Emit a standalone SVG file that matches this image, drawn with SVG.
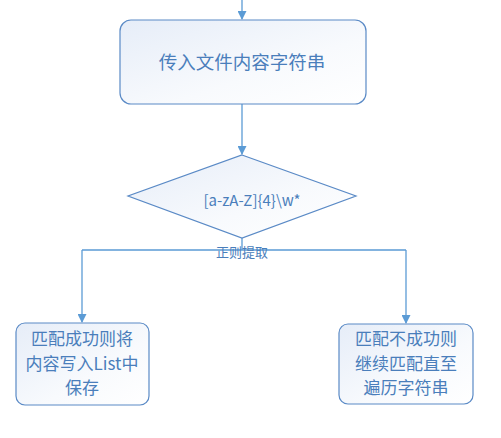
<svg xmlns="http://www.w3.org/2000/svg" width="501" height="438" viewBox="0 0 501 438">
<defs>
<linearGradient id="g" x1="0" y1="0" x2="1" y2="1">
<stop offset="0" stop-color="#e6edf8"/>
<stop offset="0.6" stop-color="#f8fafd"/>
<stop offset="1" stop-color="#ffffff"/>
</linearGradient>
<marker id="arr" markerWidth="9" markerHeight="9" refX="8" refY="4.5" orient="auto" markerUnits="userSpaceOnUse">
<path d="M0,0 L9,4.5 L0,9 Z" fill="#5b9bd5"/>
</marker>
<style>
.shape{fill:url(#g);stroke:#5a8ac6;stroke-width:1.2}
.t{font-family:"Noto Sans CJK SC","Liberation Sans",sans-serif;fill:#4a7ebb;text-anchor:middle}
.c{fill:none;stroke:#5b9bd5;stroke-width:1.3}
</style>
</defs>
<g id="connectors">
<path class="c" d="M242,0 V19" marker-end="url(#arr)"/>
<path class="c" d="M242,104 V154" marker-end="url(#arr)"/>
<path class="c" d="M242,238 V250 M82,250 H406"/>
<path class="c" d="M82,250 V322" marker-end="url(#arr)"/>
<path class="c" d="M406,250 V323" marker-end="url(#arr)"/>
<text class="t" x="242" y="257" font-size="13">正则提取</text>
</g>
<g id="start">
<rect class="shape" x="120" y="20" width="246" height="84" rx="11"/>
<text class="t" x="242" y="69" font-size="18.5">传入文件内容字符串</text>
</g>
<g id="decision">
<path class="shape" d="M242,155 L356,196 L242,238 L128,196 Z"/>
<text class="t" x="252" y="206" font-size="15" font-family="Liberation Sans">[a-zA-Z]{4}\w*</text>
</g>
<g id="success">
<rect class="shape" x="16" y="323" width="133" height="82" rx="9"/>
<text class="t" x="82" y="345" font-size="17">匹配成功则将</text>
<text class="t" x="82" y="369.5" font-size="17">内容写入List中</text>
<text class="t" x="82" y="394" font-size="17">保存</text>
</g>
<g id="fail">
<rect class="shape" x="339" y="324" width="134" height="80" rx="9"/>
<text class="t" x="406" y="345" font-size="17">匹配不成功则</text>
<text class="t" x="406" y="369.5" font-size="17">继续匹配直至</text>
<text class="t" x="406" y="394" font-size="17">遍历字符串</text>
</g>
</svg>
